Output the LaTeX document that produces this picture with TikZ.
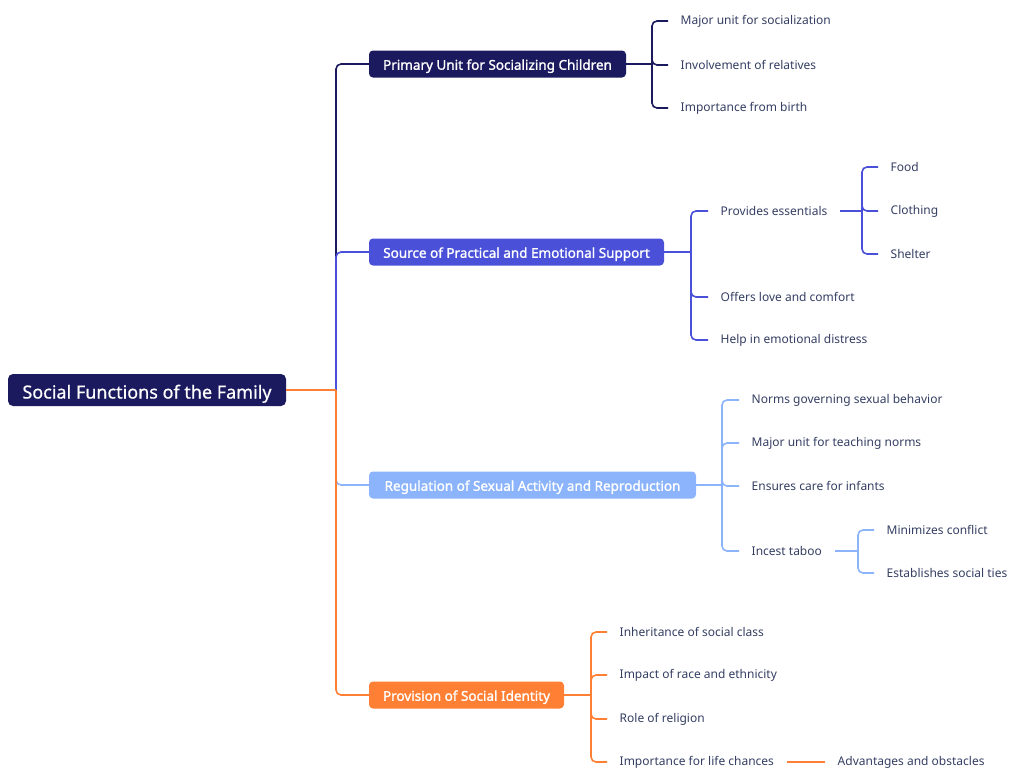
\documentclass[tikz,border=0pt]{standalone}
\usepackage{fontspec}
\setmainfont{Noto Sans}
\newfontfamily\branchfont{Noto Sans}[FakeBold=1.3]
\newfontfamily\rootfont{Noto Sans}[FakeBold=0.6]
\definecolor{navy}{RGB}{28,26,94}
\definecolor{violet}{RGB}{74,80,216}
\definecolor{sky}{RGB}{140,180,252}
\definecolor{orng}{RGB}{255,128,52}
\definecolor{leaftext}{RGB}{52,62,98}
\tikzset{
  rootbox/.style={fill=navy, text=white, rounded corners=5pt, minimum width=278pt, minimum height=32pt, inner sep=0pt, text height=18pt, text depth=1pt, font=\rootfont\fontsize{18}{22}\selectfont},
  branchbox/.style={rounded corners=4pt, text=white, minimum height=27pt, inner sep=0pt, text height=12.5pt, text depth=1pt, font=\branchfont\fontsize{13.5}{16}\selectfont},
  leaf/.style={anchor=west, inner xsep=12.5pt, inner ysep=2pt, text=leaftext, font=\fontsize{12}{15}\selectfont},
  conn/.style={line width=1.6pt, rounded corners=5pt},
}
\begin{document}
\begin{tikzpicture}[x=1pt,y=-1pt]
\useasboundingbox (0,0) rectangle (1024,774);
% root and main branches
\node[rootbox] (root) at (147,390) {Social Functions of the Family};
\node[branchbox, fill=navy, minimum width=257pt] (b1) at (497.5,64) {Primary Unit for Socializing Children};
\node[branchbox, fill=violet, minimum width=295pt] (b2) at (516.5,252) {Source of Practical and Emotional Support};
\node[branchbox, fill=sky, minimum width=327pt] (b3) at (532.5,485) {Regulation of Sexual Activity and Reproduction};
\node[branchbox, fill=orng, minimum width=195pt] (b4) at (466.5,695) {Provision of Social Identity};
\coordinate (hub) at (336,390);
\draw[conn, navy] (hub) |- (b1.west);
\draw[conn, violet] (hub) |- (b2.west);
\draw[conn, sky] (hub) |- (b3.west);
\draw[conn, orng] (hub) |- (b4.west);
\draw[conn, orng] (root.east |- hub) -- (hub);
% branch 1
\node[leaf] (l11) at (668,21) {Major unit for socialization};
\node[leaf] (l12) at (668,65) {Involvement of relatives};
\node[leaf] (l13) at (668,108) {Importance from birth};
\coordinate (s1) at (652,64);
\draw[conn, navy] (b1.east) -- (s1);
\foreach \n in {l11,l12,l13} \draw[conn, navy] (s1) |- (\n.west);
% branch 2
\node[leaf] (l21) at (708,211) {Provides essentials};
\node[leaf] (l22) at (708,297) {Offers love and comfort};
\node[leaf] (l23) at (708,340) {Help in emotional distress};
\coordinate (s2) at (691,252);
\draw[conn, violet] (b2.east) -- (s2);
\foreach \n in {l21,l22,l23} \draw[conn, violet] (s2) |- (\n.west);
\node[leaf] (l211) at (878,167) {Food};
\node[leaf] (l212) at (878,211) {Clothing};
\node[leaf] (l213) at (878,254) {Shelter};
\coordinate (s21) at (862,211);
\draw[conn, violet] (l21.east) -- (s21);
\foreach \n in {l211,l212,l213} \draw[conn, violet] (s21) |- (\n.west);
% branch 3
\node[leaf] (l31) at (739,400) {Norms governing sexual behavior};
\node[leaf] (l32) at (739,443) {Major unit for teaching norms};
\node[leaf] (l33) at (739,486) {Ensures care for infants};
\node[leaf] (l34) at (739,551) {Incest taboo};
\coordinate (s3) at (722,485);
\draw[conn, sky] (b3.east) -- (s3);
\foreach \n in {l31,l32,l33,l34} \draw[conn, sky] (s3) |- (\n.west);
\node[leaf] (l341) at (874,530) {Minimizes conflict};
\node[leaf] (l342) at (874,573) {Establishes social ties};
\coordinate (s34) at (858,551);
\draw[conn, sky] (l34.east) -- (s34);
\foreach \n in {l341,l342} \draw[conn, sky] (s34) |- (\n.west);
% branch 4
\node[leaf] (l41) at (607,632) {Inheritance of social class};
\node[leaf] (l42) at (607,675) {Impact of race and ethnicity};
\node[leaf] (l43) at (607,719) {Role of religion};
\node[leaf] (l44) at (607,762) {Importance for life chances};
\coordinate (s4) at (591,695);
\draw[conn, orng] (b4.east) -- (s4);
\foreach \n in {l41,l42,l43,l44} \draw[conn, orng] (s4) |- (\n.west);
\node[leaf] (l441) at (825,762) {Advantages and obstacles};
\draw[conn, orng] (l44.east) -- (l441.west);
\end{tikzpicture}
\end{document}
